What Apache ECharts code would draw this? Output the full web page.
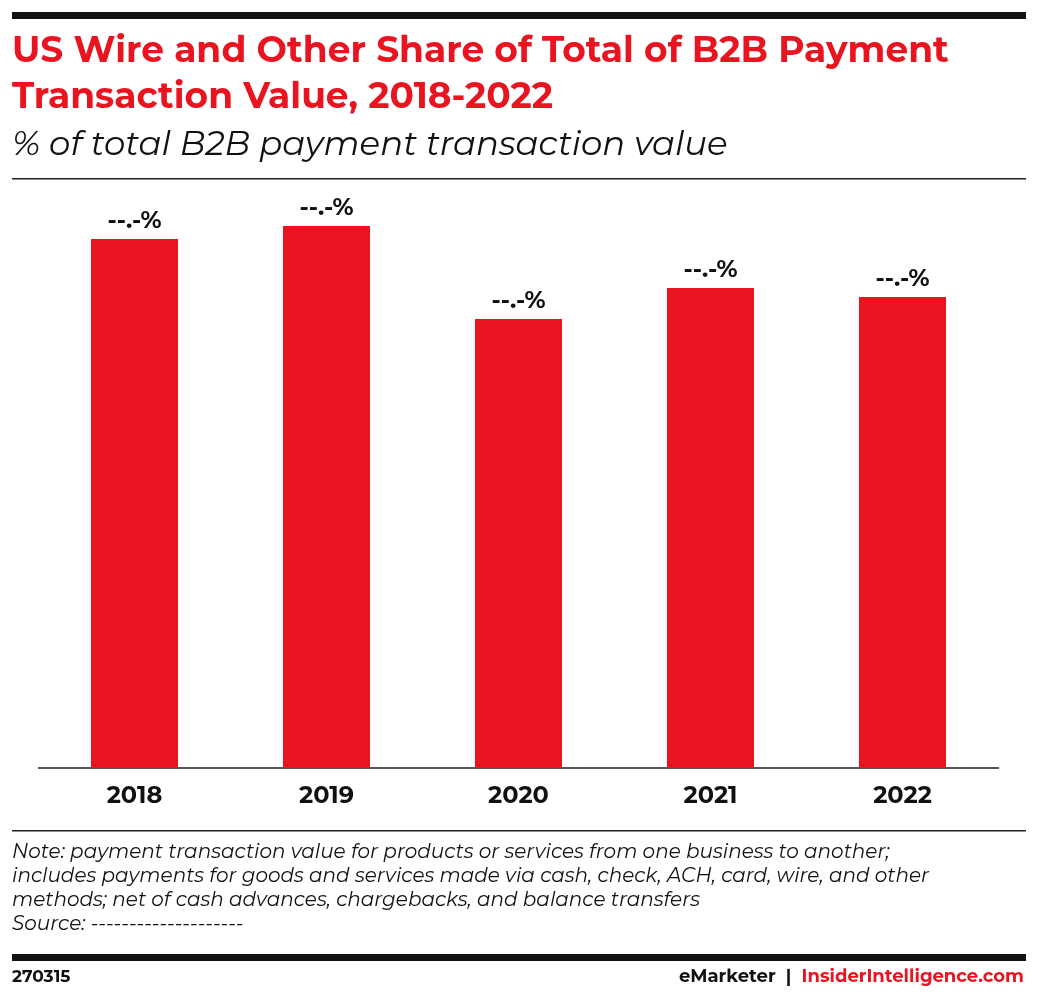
<!DOCTYPE html>
<html>
<head>
<meta charset="utf-8">
<script src="https://cdn.jsdelivr.net/npm/echarts@6/dist/echarts.min.js"></script>
<style>html,body{margin:0;padding:0;background:#fff}#chart{width:1038px;height:1003px}</style>
</head>
<body>
<div id="chart"></div>
<script>
var years = ['2018', '2019', '2020', '2021', '2022'];
// values hidden in the source ("--.-%")
var shares = [52.9, 54.2, 44.9, 48.0, 47.1];
var valueLabels = ['--.-%', '--.-%', '--.-%', '--.-%', '--.-%'];

var myChart = echarts.init(document.getElementById('chart'));
var font = 'Montserrat, "Open Sans", "DejaVu Sans", sans-serif';
var option = {
	animation: false,
	textStyle: { fontFamily: font },
	grid: { left: 38.5, right: 39.5, top: 190, bottom: 235 },
	xAxis: {
		type: 'category',
		data: years,
		axisTick: { show: false },
		axisLine: { lineStyle: { color: '#222', width: 1.5 } },
		axisLabel: { color: '#111', fontSize: 24, fontWeight: 'bold', margin: 16, fontFamily: font }
	},
	yAxis: { type: 'value', min: 0, max: 57.8, show: false, splitLine: { show: false } },
	series: [{
		type: 'bar',
		data: shares,
		barWidth: 87,
		itemStyle: { color: '#e8141f' },
		label: {
			show: true,
			position: 'top',
			distance: 6,
			color: '#111',
			fontSize: 24,
			fontWeight: 'bold',
			fontFamily: font,
			formatter: function (p) { return valueLabels[p.dataIndex]; }
		}
	}],
	graphic: [
		{ type: 'rect', shape: { x: 12, y: 12, width: 1014, height: 7 }, style: { fill: '#111' } },
		{ type: 'text', left: 12, top: 28, style: { text: 'US Wire and Other Share of Total of B2B Payment\nTransaction Value, 2018-2022', fill: '#e8141f', font: 'bold 36px ' + font, lineHeight: 46 } },
		{ type: 'text', left: 12, top: 128, style: { text: '% of total B2B payment transaction value', fill: '#111', font: 'italic 34px ' + font } },
		{ type: 'rect', shape: { x: 12, y: 178, width: 1014, height: 1.5 }, style: { fill: '#222' } },
		{ type: 'rect', shape: { x: 12, y: 830, width: 1014, height: 1.5 }, style: { fill: '#222' } },
		{ type: 'text', left: 12, top: 840, style: { text: 'Note: payment transaction value for products or services from one business to another;\nincludes payments for goods and services made via cash, check, ACH, card, wire, and other\nmethods; net of cash advances, chargebacks, and balance transfers\nSource: --------------------', fill: '#111', font: 'italic 20px ' + font, lineHeight: 24 } },
		{ type: 'rect', shape: { x: 12, y: 954, width: 1014, height: 7 }, style: { fill: '#111' } },
		{ type: 'text', left: 12, top: 968, style: { text: '270315', fill: '#111', font: 'bold 17px ' + font } },
		{ type: 'text', right: 14, top: 968, style: { rich: { a: { fill: '#111', font: 'bold 18px ' + font }, b: { fill: '#e8141f', font: 'bold 18px ' + font } }, text: '{a|eMarketer  |  }{b|InsiderIntelligence.com}' } }
	]
};
myChart.setOption(option);
window.addEventListener('resize', function () { myChart.resize(); });
</script>
</body>
</html>
